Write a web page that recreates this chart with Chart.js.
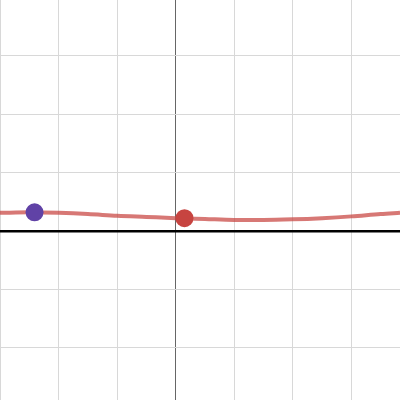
<!DOCTYPE html>
<html><head><script src="https://cdn.jsdelivr.net/npm/chart.js@4"></script>
<style>html,body{margin:0;padding:0;background:#fff}#c{display:block}</style></head>
<body><div style="width:400px;height:400px"><canvas id="c"></canvas></div>
<script>
const curveX = [-3, -2.5, -2, -1.5, -1, -0.5, 0, 0.5, 1, 1.5, 2, 2.5, 3, 3.5, 3.83];
const curveY = [0.31, 0.32, 0.31, 0.29, 0.26, 0.24, 0.22, 0.205, 0.19, 0.19, 0.2, 0.22, 0.25, 0.29, 0.31];
const purplePoint = [-2.41, 0.32];
const redPoint = [0.15, 0.22];
const xMin = -3.0, xMax = 3.83, yMin = -2.89, yMax = 3.95;

const intTicks = s => { s.ticks = s.ticks.filter(t => Math.abs(t.value - Math.round(t.value)) < 1e-9); };
const gridOpts = (zeroColor, zeroWidth) => ({
  color: c => c.tick && c.tick.value === 0 ? zeroColor : '#d8d8d8',
  lineWidth: c => c.tick && c.tick.value === 0 ? zeroWidth : 1,
  drawTicks: false
});
new Chart(document.getElementById('c'), {
  type: 'scatter',
  data: { datasets: [
    { data: [{x: purplePoint[0], y: purplePoint[1]}], pointRadius: 9, pointBackgroundColor: '#6042a6', pointBorderWidth: 0, order: 0 },
    { data: [{x: redPoint[0], y: redPoint[1]}], pointRadius: 9, pointBackgroundColor: '#c74440', pointBorderWidth: 0, order: 0 },
    { data: curveX.map((x, i) => ({x, y: curveY[i]})), showLine: true, pointRadius: 0, borderColor: 'rgba(199,68,64,0.72)', borderWidth: 4, cubicInterpolationMode: 'monotone', order: 1 }
  ]},
  options: {
    responsive: true, maintainAspectRatio: false, animation: false,
    layout: { padding: 0, autoPadding: false },
    plugins: { legend: { display: false }, tooltip: { enabled: false } },
    scales: {
      x: { type: 'linear', min: xMin, max: xMax, ticks: { display: false, stepSize: 1, padding: 0 }, afterBuildTicks: intTicks, border: { display: false }, grid: gridOpts('#666', 1) },
      y: { type: 'linear', min: yMin, max: yMax, ticks: { display: false, stepSize: 1, padding: 0 }, afterBuildTicks: intTicks, border: { display: false }, grid: gridOpts('#000', 2.5) }
    }
  }
});
</script></body></html>
